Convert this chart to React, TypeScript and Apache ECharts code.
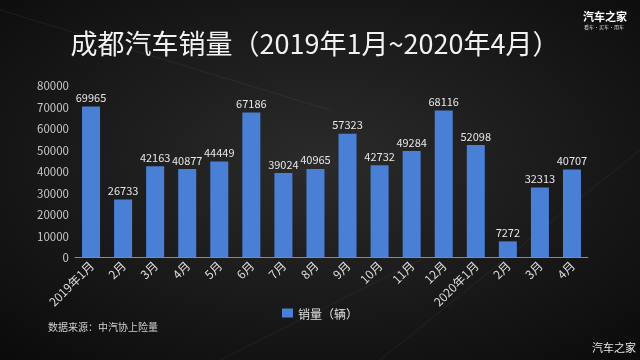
import React, { useEffect, useRef } from "react";
import * as echarts from "echarts";

const categories = ["2019年1月", "2月", "3月", "4月", "5月", "6月", "7月", "8月", "9月", "10月", "11月", "12月", "2020年1月", "2月", "3月", "4月"];
const sales = [69965, 26733, 42163, 40877, 44449, 67186, 39024, 40965, 57323, 42732, 49284, 68116, 52098, 7272, 32313, 40707];
const yTicks = { min: 0, max: 80000, interval: 10000 };

export default function App() {
  const ref = useRef<HTMLDivElement>(null);
  useEffect(() => {
    const chart = echarts.init(ref.current!, null, { renderer: "svg" });
    const font = "'Noto Sans CJK SC', 'Noto Sans', sans-serif";
    chart.setOption({
      animation: false,
      backgroundColor: {
        type: "radial", x: 0.5, y: 0.45, r: 0.8,
        colorStops: [{ offset: 0, color: "#2b2b2b" }, { offset: 1, color: "#080808" }],
      },
      textStyle: { fontFamily: font },
      title: {
        text: "成都汽车销量（2019年1月~2020年4月）",
        left: 310, top: 24, textAlign: "center",
        textStyle: { color: "#f2f2f2", fontSize: 27, fontWeight: "normal", fontFamily: font },
      },
      graphic: [
        { type: "line", silent: true, shape: { x1: 0, y1: 10, x2: 330, y2: 110 }, style: { stroke: "rgba(255,255,255,0.06)", lineWidth: 1 } },
        { type: "line", silent: true, shape: { x1: 380, y1: 360, x2: 640, y2: 150 }, style: { stroke: "rgba(255,255,255,0.06)", lineWidth: 1 } },
        { type: "line", silent: true, shape: { x1: 220, y1: 360, x2: 420, y2: 260 }, style: { stroke: "rgba(255,255,255,0.06)", lineWidth: 1 } },
        { type: "text", left: 583, top: 10, style: { text: "汽车之家", fill: "#ffffff", font: `bold 11px ${font}` } },
        { type: "text", left: 584, top: 24, style: { text: "看车·买车·用车", fill: "#dddddd", font: `5px ${font}` } },
        { type: "text", left: 592, top: 341, style: { text: "汽车之家", fill: "#e6e6e6", font: `11px ${font}` } },
        { type: "text", left: 48, top: 321, style: { text: "数据来源：中汽协上险量", fill: "#d0d0d0", font: `10px ${font}` } },
      ],
      legend: {
        data: ["销量（辆）"], top: 302, left: "center",
        itemWidth: 11, itemHeight: 9, icon: "rect",
        textStyle: { color: "#e0e0e0", fontSize: 12, fontFamily: font },
      },
      grid: { left: 75, right: 52, top: 85, bottom: 103 },
      xAxis: {
        type: "category", data: categories,
        axisLine: { lineStyle: { color: "#8a8a8a" } },
        axisTick: { show: false },
        axisLabel: { color: "#dcdcdc", rotate: 45, fontSize: 12, interval: 0, margin: 6 },
      },
      yAxis: {
        type: "value", ...yTicks,
        axisLine: { show: false }, axisTick: { show: false },
        splitLine: { show: false },
        axisLabel: { color: "#c8c8c8", fontSize: 11.5, margin: 6, formatter: (v: number) => String(v) },
      },
      series: [{
        name: "销量（辆）", type: "bar", data: sales, barWidth: 18,
        itemStyle: { color: "#4a7fd6" },
        label: { show: true, position: "top", color: "#e6e6e6", fontSize: 11, distance: 4 },
      }],
    });
    return () => chart.dispose();
  }, []);
  return <div ref={ref} style={{ width: 640, height: 360, position: "fixed", left: 0, top: 0 }} />;
}
